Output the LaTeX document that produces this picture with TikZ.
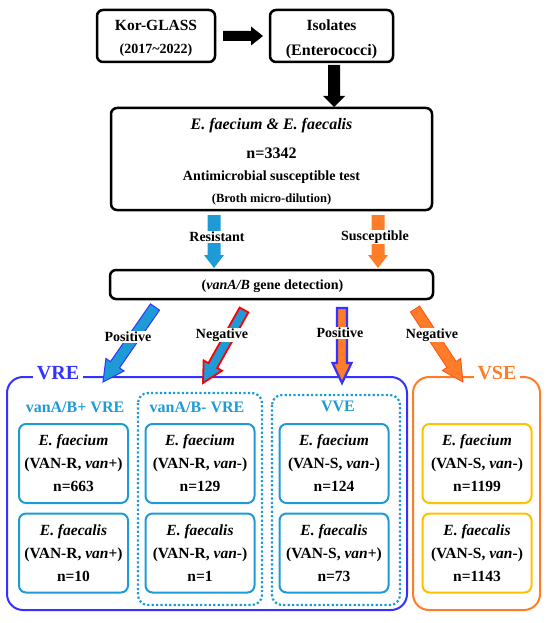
\documentclass[tikz,border=0pt]{standalone}
\usepackage{fontspec}
\setmainfont{Liberation Serif}
\usetikzlibrary{calc}
\definecolor{lblue}{RGB}{30,155,215}
\definecolor{vblue}{RGB}{51,51,255}
\definecolor{orng}{RGB}{255,125,40}
\definecolor{goldc}{RGB}{255,192,0}
\definecolor{ored}{RGB}{255,80,20}
\newcommand\fsz[1]{\fontsize{#1}{#1}\selectfont\bfseries}
% block arrow: style, from, to, half shaft, half head, head length
\newcommand\blockarr[6]{%
  \coordinate (hb) at ($(#3)!#6!(#2)$);
  \filldraw[#1] ($(#2)!#4!90:(#3)$) -- ($(hb)!#4!-90:(#2)$) -- ($(hb)!#5!-90:(#2)$)
    -- (#3) -- ($(hb)!#5!90:(#2)$) -- ($(hb)!#4!90:(#2)$) -- ($(#2)!#4!-90:(#3)$) -- cycle;
}
\tikzset{
  blackbox/.style={draw=black, line width=2.5pt, rounded corners=6pt, inner sep=0pt, fill=white},
  txt/.style={inner sep=0pt, align=center},
  lbl/.style={fill=white, inner sep=1pt, font=\fsz{14}},
  spbox/.style={draw=lblue, line width=2pt, rounded corners=7pt, minimum width=109pt, minimum height=79pt,
     inner sep=0pt, align=center, font=\fontsize{15.5}{23}\selectfont\bfseries},
  goldbox/.style={spbox, draw=goldc},
  dotbox/.style={draw=lblue, line width=2.2pt, dash pattern=on 2.2pt off 2.2pt, rounded corners=10pt},
  grptitle/.style={inner sep=0pt, text=lblue, font=\fsz{16}},
  bigtitle/.style={fill=white, inner xsep=4pt, inner ysep=1pt, font=\fsz{20}},
  blackarr/.style={fill=black, draw=none},
  bluearr/.style={fill=lblue, draw=none},
  orarr/.style={fill=orng, draw=none},
}
\begin{document}
\begin{tikzpicture}[x=1pt, y=-1pt]
\useasboundingbox (0,0) rectangle (550,623);

% top boxes
\node[blackbox, minimum width=118pt, minimum height=52pt] (kor) at (156,36) {};
\node[txt, font=\fsz{15.5}] (kort) at (156,25) {Kor-GLASS};
\node[txt, font=\fsz{14}] (kory) at (156,50) {(2017\textasciitilde 2022)};
\node[blackbox, minimum width=123pt, minimum height=52pt] (iso) at (331.5,36) {};
\node[txt, font=\fsz{15.5}] (isot) at (331.5,25) {Isolates};
\node[txt, font=\fsz{16}] (isoe) at (331.5,52) {(Enterococci)};

% main box
\node[blackbox, minimum width=321pt, minimum height=102pt] (main) at (271.5,159) {};
\node[txt, font=\fsz{16}\itshape] (m1) at (271.5,126) {E. faecium \& E. faecalis};
\node[txt, font=\fsz{16}] (m2) at (271.5,153) {n=3342};
\node[txt, font=\fsz{14}] (m3) at (271.5,177) {Antimicrobial susceptible test};
\node[txt, font=\fsz{12.5}] (m4) at (271.5,199) {(Broth micro-dilution)};

% gene detection box
\node[blackbox, minimum width=323pt, minimum height=29pt] (van) at (271.5,284.5) {};
\node[txt, font=\fsz{14}] (vant) at (272.5,286) {(\textit{vanA/B} gene detection)};

% black arrows
\coordinate (a1s) at (223,36); \coordinate (a1e) at (263,36);
\blockarr{blackarr}{a1s}{a1e}{5pt}{9.5pt}{12pt}
\coordinate (a2s) at (334,65); \coordinate (a2e) at (334,107);
\blockarr{blackarr}{a2s}{a2e}{6pt}{11pt}{11pt}

% resistant / susceptible
\coordinate (rs) at (214,215); \coordinate (re) at (214,268);
\blockarr{bluearr}{rs}{re}{6.5pt}{10pt}{13pt}
\node[lbl] (rl) at (217,237) {Resistant};
\coordinate (ss) at (378,215); \coordinate (se) at (378,268);
\blockarr{orarr}{ss}{se}{6.5pt}{10pt}{13pt}
\node[lbl] (sl) at (375,237) {Susceptible};

% group boxes
\draw[draw=vblue, line width=2pt, rounded corners=16pt] (7,377) rectangle (407,610);
\node[bigtitle, text=vblue] (vre) at (58,373) {VRE};
\draw[draw=orng, line width=2pt, rounded corners=16pt] (413,377) rectangle (540,610);
\node[bigtitle, text=orng] (vse) at (497,373) {VSE};

\draw[dotbox] (138,393) rectangle (262,605);
\draw[dotbox] (272,395) rectangle (400,605);
\node[grptitle] (g1) at (75,407) {vanA/B+ VRE};
\node[grptitle] (g2) at (197,407) {vanA/B- VRE};
\node[grptitle] (g3) at (338,406) {VVE};

% species boxes
\node[spbox] (b11) at (73.5,463.5) {\textit{E. faecium}\\(VAN-R, \textit{van}+)\\n=663};
\node[spbox] (b12) at (73.5,553) {\textit{E. faecalis}\\(VAN-R, \textit{van}+)\\n=10};
\node[spbox] (b21) at (200,463.5) {\textit{E. faecium}\\(VAN-R, \textit{van}-)\\n=129};
\node[spbox] (b22) at (200,553) {\textit{E. faecalis}\\(VAN-R, \textit{van}-)\\n=1};
\node[spbox] (b31) at (334,463.5) {\textit{E. faecium}\\(VAN-S, \textit{van}-)\\n=124};
\node[spbox] (b32) at (334,553) {\textit{E. faecalis}\\(VAN-S, \textit{van}+)\\n=73};
\node[goldbox] (b41) at (477,463.5) {\textit{E. faecium}\\(VAN-S, \textit{van}-)\\n=1199};
\node[goldbox] (b42) at (477,553) {\textit{E. faecalis}\\(VAN-S, \textit{van}-)\\n=1143};

% slanted arrows
\coordinate (p1s) at (155,307); \coordinate (p1e) at (103,382);
\blockarr{fill=lblue, draw=vblue, line width=1pt, line join=miter}{p1s}{p1e}{5.5pt}{11pt}{21pt}
\node[lbl] (p1l) at (128,337) {Positive};
\coordinate (n1s) at (244,310); \coordinate (n1e) at (203,383);
\blockarr{fill=lblue, draw=red, line width=1.8pt, line join=miter}{n1s}{n1e}{5pt}{10.5pt}{20pt}
\node[lbl] (n1l) at (222,335) {Negative};
\coordinate (p2s) at (342,308); \coordinate (p2e) at (342,383);
\blockarr{fill=orng, draw=vblue, line width=2.2pt, line join=miter}{p2s}{p2e}{5pt}{9.5pt}{20pt}
\node[lbl] (p2l) at (340,333) {Positive};
\coordinate (n2s) at (415,309); \coordinate (n2e) at (463,382);
\blockarr{fill=orng, draw=ored, line width=0.8pt, line join=miter}{n2s}{n2e}{5.5pt}{11pt}{21pt}
\node[lbl] (n2l) at (432,335) {Negative};
\end{tikzpicture}
\end{document}
